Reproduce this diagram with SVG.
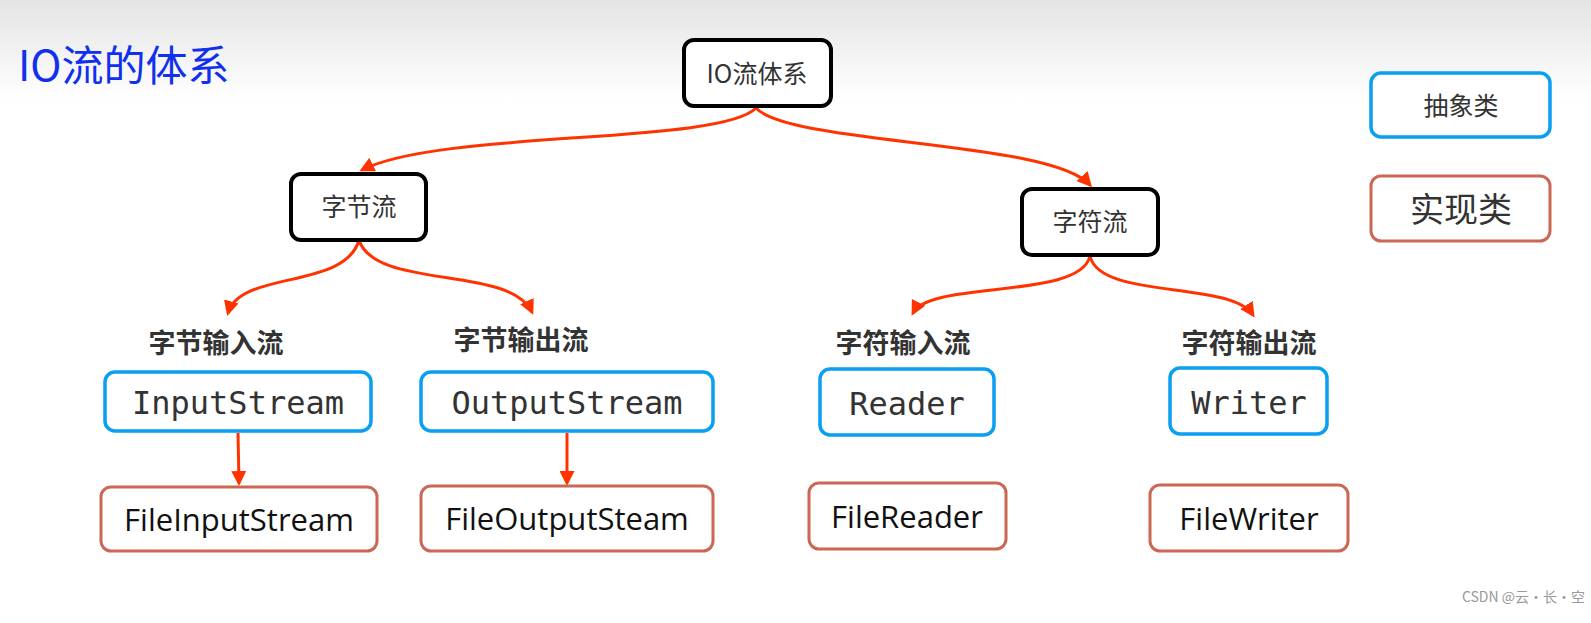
<svg xmlns="http://www.w3.org/2000/svg" width="1591" height="623" viewBox="0 0 1591 623">
<defs>
<linearGradient id="bg" x1="0" y1="0" x2="0" y2="1"><stop offset="0" stop-color="#e4e4e4"/><stop offset="1" stop-color="#ffffff"/></linearGradient>
<marker id="ah" viewBox="0 0 10 10" refX="8" refY="5" markerWidth="5" markerHeight="5" orient="auto"><path d="M0,0 L10,5 L0,10 z" fill="#ff3300"/></marker>
</defs>
<style>
.blk{fill:#fff;stroke:#000;stroke-width:4}
.abs{fill:#fff;stroke:#0a9ff0;stroke-width:3.5}
.imp{fill:#fff;stroke:#cc6655;stroke-width:3}
.cn{font-family:"Noto Sans CJK SC",sans-serif;fill:#333;text-anchor:middle}
.mono{font-family:"DejaVu Sans Mono",monospace;font-size:32px;fill:#333;text-anchor:middle}
.sans{font-family:"Open Sans","Noto Sans",sans-serif;font-size:31px;fill:#111;text-anchor:middle}
.lbl{font-family:"Noto Sans CJK SC",sans-serif;font-size:27px;font-weight:bold;fill:#333;text-anchor:middle}
.c{fill:none;stroke:#ff3300;stroke-width:3;marker-end:url(#ah)}
</style>
<rect width="1591" height="100" fill="url(#bg)"/>
<text x="18" y="81" font-family="Noto Sans CJK SC,sans-serif" font-size="42" fill="#1030ee">IO流的体系</text>
<g id="connectors">
<path class="c" d="M756,108 C720,145 440,130 362,170"/>
<path class="c" d="M756,108 C790,145 1050,140 1090,185"/>
<path class="c" d="M359,240 C345,290 240,270 228,313"/>
<path class="c" d="M359,240 C375,290 510,265 532,312"/>
<path class="c" d="M1090,256 C1080,300 930,280 913,313"/>
<path class="c" d="M1090,256 C1100,300 1230,280 1253,315"/>
<path class="c" d="M238,433 L239,483"/>
<path class="c" d="M567,433 L567,483"/>
</g>
<g id="root"><rect class="blk" x="684" y="40" width="147" height="66" rx="10"/><text class="cn" x="757" y="83" font-size="25">IO流体系</text></g>
<g id="byte"><rect class="blk" x="291" y="174" width="135" height="66" rx="10"/><text class="cn" x="359" y="216" font-size="25">字节流</text></g>
<g id="char"><rect class="blk" x="1022" y="189" width="136" height="66" rx="10"/><text class="cn" x="1090" y="231" font-size="25">字符流</text></g>
<g id="legend-abs"><rect class="abs" x="1371" y="73" width="179" height="64" rx="10"/><text class="cn" x="1461" y="115" font-size="25">抽象类</text></g>
<g id="legend-imp"><rect class="imp" x="1371" y="176" width="179" height="65" rx="10"/><text class="cn" x="1461" y="222" font-size="34" fill="#111">实现类</text></g>
<text class="lbl" x="216" y="353">字节输入流</text>
<text class="lbl" x="521" y="350">字节输出流</text>
<text class="lbl" x="903" y="353">字符输入流</text>
<text class="lbl" x="1249" y="353">字符输出流</text>
<g id="is"><rect class="abs" x="105" y="372" width="266" height="59" rx="10"/><text class="mono" x="238" y="414">InputStream</text></g>
<g id="os"><rect class="abs" x="421" y="372" width="292" height="59" rx="10"/><text class="mono" x="567" y="414">OutputStream</text></g>
<g id="rd"><rect class="abs" x="820" y="369" width="174" height="66" rx="10"/><text class="mono" x="907" y="415">Reader</text></g>
<g id="wr"><rect class="abs" x="1170" y="368" width="157" height="66" rx="10"/><text class="mono" x="1249" y="414">Writer</text></g>
<g id="fis"><rect class="imp" x="101" y="487" width="276" height="64" rx="10"/><text class="sans" x="239" y="531">FileInputStream</text></g>
<g id="fos"><rect class="imp" x="421" y="486" width="292" height="65" rx="10"/><text class="sans" x="567" y="530">FileOutputSteam</text></g>
<g id="fr"><rect class="imp" x="809" y="483" width="197" height="66" rx="10"/><text class="sans" x="907" y="528">FileReader</text></g>
<g id="fw"><rect class="imp" x="1150" y="485" width="198" height="66" rx="10"/><text class="sans" x="1249" y="530">FileWriter</text></g>
<text x="1585" y="602" font-family="Noto Sans CJK SC,sans-serif" font-size="14" fill="#999" text-anchor="end">CSDN @云·长·空</text>
</svg>
